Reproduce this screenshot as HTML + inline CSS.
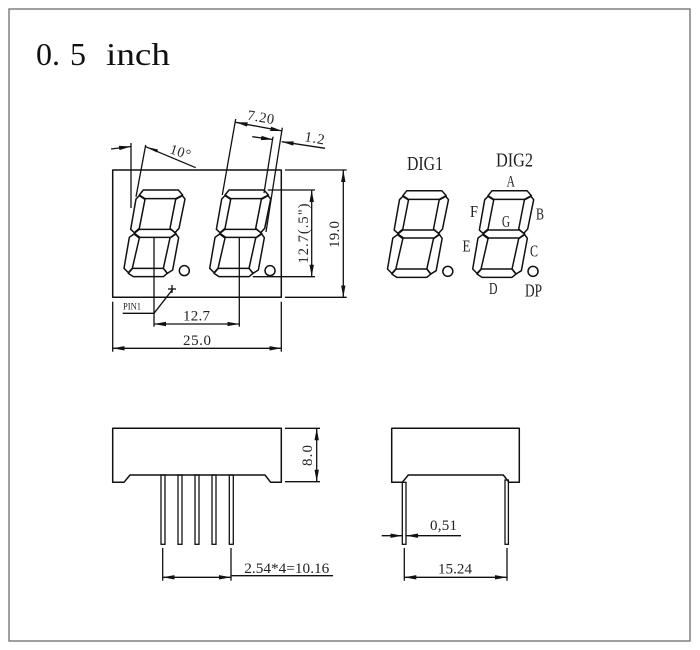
<!DOCTYPE html>
<html>
<head>
<meta charset="utf-8">
<style>
html,body{margin:0;padding:0;background:#fff;width:700px;height:650px;overflow:hidden}
svg{display:block}
text{font-family:"Liberation Serif","Noto Serif CJK SC",serif;fill:#222}
.l{stroke:#111;stroke-width:1.3;fill:none}
.a{stroke:#111;stroke-width:1.3;fill:none;marker-start:url(#ah);marker-end:url(#ah)}
.e{stroke:#111;stroke-width:1.3;fill:none;marker-end:url(#ah)}
.s{stroke:#111;stroke-width:1.5;fill:none;stroke-linejoin:round}
.d polygon,.d circle{stroke:#111;stroke-width:4.5;fill:none;stroke-linejoin:round}
</style>
</head>
<body>
<svg width="700" height="650" viewBox="0 0 700 650" xmlns="http://www.w3.org/2000/svg">
<defs>
<marker id="ah" viewBox="0 0 12 6" refX="12" refY="3" markerWidth="12" markerHeight="6" markerUnits="userSpaceOnUse" orient="auto-start-reverse"><path d="M0 0.8L12 3L0 5.2z" fill="#111"/></marker>
</defs>
<rect width="700" height="650" fill="#fff"/>
<rect x="9" y="9" width="681" height="632" fill="none" stroke="#777" stroke-width="1.4"/>
<text x="36" y="65" font-size="32" style="fill:#111">0.</text>
<text x="70" y="65" font-size="32" style="fill:#111">5</text>
<text x="106" y="65" font-size="32" textLength="64" lengthAdjust="spacingAndGlyphs" style="fill:#111">inch</text>

<!-- front view -->
<rect class="s" x="112.7" y="170" width="168.6" height="127.3"/>

<g class="d" transform="translate(100,100) scale(.3333)">
<polygon points="130,270 235,270 248,285 227,296 135,296 118,285"/>
<polygon points="118,287 135,298 118,385 103,398 92,388 108,297"/>
<polygon points="247,287 255,297 237,385 225,398 210,385 227,298"/>
<polygon points="103,400 118,388 212,388 228,400 212,412 120,412"/>
<polygon points="102,402 118,414 97,505 85,518 72,505 88,412"/>
<polygon points="228,402 236,413 218,510 202,520 190,505 210,414"/>
<polygon points="85,520 98,505 190,505 202,520 190,530 100,530"/>
<circle cx="253" cy="512" r="15"/>
</g>
<g class="d" transform="translate(185.7,100) scale(.3333)">
<polygon points="130,270 235,270 248,285 227,296 135,296 118,285"/>
<polygon points="118,287 135,298 118,385 103,398 92,388 108,297"/>
<polygon points="247,287 255,297 237,385 225,398 210,385 227,298"/>
<polygon points="103,400 118,388 212,388 228,400 212,412 120,412"/>
<polygon points="102,402 118,414 97,505 85,518 72,505 88,412"/>
<polygon points="228,402 236,413 218,510 202,520 190,505 210,414"/>
<polygon points="85,520 98,505 190,505 202,520 190,530 100,530"/>
<circle cx="253" cy="512" r="15"/>
</g>
<g class="d" transform="translate(363.5,100.7) scale(.3333)">
<polygon points="130,270 235,270 248,285 227,296 135,296 118,285"/>
<polygon points="118,287 135,298 118,385 103,398 92,388 108,297"/>
<polygon points="247,287 255,297 237,385 225,398 210,385 227,298"/>
<polygon points="103,400 118,388 212,388 228,400 212,412 120,412"/>
<polygon points="102,402 118,414 97,505 85,518 72,505 88,412"/>
<polygon points="228,402 236,413 218,510 202,520 190,505 210,414"/>
<polygon points="85,520 98,505 190,505 202,520 190,530 100,530"/>
<circle cx="253" cy="512" r="15"/>
</g>
<g class="d" transform="translate(448.7,100.7) scale(.3333)">
<polygon points="130,270 235,270 248,285 227,296 135,296 118,285"/>
<polygon points="118,287 135,298 118,385 103,398 92,388 108,297"/>
<polygon points="247,287 255,297 237,385 225,398 210,385 227,298"/>
<polygon points="103,400 118,388 212,388 228,400 212,412 120,412"/>
<polygon points="102,402 118,414 97,505 85,518 72,505 88,412"/>
<polygon points="228,402 236,413 218,510 202,520 190,505 210,414"/>
<polygon points="85,520 98,505 190,505 202,520 190,530 100,530"/>
<circle cx="253" cy="512" r="15"/>
</g>

<!-- 10 degree -->
<line class="l" x1="131" y1="143" x2="131" y2="208"/>
<line class="e" x1="111" y1="149" x2="131" y2="146.5"/>
<line class="l" x1="145.7" y1="145" x2="136" y2="196.7"/>
<line class="l" x1="145.7" y1="146.7" x2="195.7" y2="167.7"/>
<path d="M145.7 146.7L158 149.5L157 152.5z" fill="#111"/>
<text transform="translate(169,153) rotate(18)" font-size="14" textLength="21">10°</text>

<!-- 7.20 and 1.2 -->
<line class="l" x1="235.7" y1="119" x2="222.3" y2="195"/>
<line class="l" x1="282.3" y1="127.7" x2="266" y2="232"/>
<line class="l" x1="273" y1="136.7" x2="264" y2="193"/>
<line class="a" x1="235.7" y1="122.3" x2="282.3" y2="131"/>
<text transform="translate(246.7,119.5) rotate(10)" font-size="14.5" textLength="27">7.20</text>
<line class="e" x1="252.3" y1="136.7" x2="273" y2="139.5"/>
<line class="e" x1="325" y1="148.3" x2="281.7" y2="141.7"/>
<text transform="translate(304,141) rotate(10)" font-size="14.5" textLength="20">1.2</text>

<!-- right dims -->
<line class="l" x1="285" y1="170" x2="346.7" y2="170"/>
<line class="l" x1="285" y1="297.3" x2="346.7" y2="297.3"/>
<line class="a" x1="343.3" y1="170" x2="343.3" y2="297.3"/>
<text transform="translate(339,248) rotate(-90)" font-size="15" textLength="27">19.0</text>
<line class="l" x1="267.7" y1="190" x2="315" y2="190"/>
<line class="l" x1="252.7" y1="276.7" x2="315" y2="276.7"/>
<line class="a" x1="311.7" y1="190" x2="311.7" y2="276.7"/>
<text transform="translate(308,263.5) rotate(-90)" font-size="14.5" textLength="60">12.7(.5")</text>

<!-- pin1 and lower dims -->
<text x="123" y="309.5" font-size="9.5" textLength="18" lengthAdjust="spacingAndGlyphs">PIN1</text>
<line class="l" x1="122.7" y1="313.3" x2="154" y2="313.3"/>
<line class="l" x1="154" y1="313.3" x2="172.7" y2="289.3"/>
<line class="l" x1="168" y1="289" x2="176" y2="289"/>
<line class="l" x1="172" y1="285" x2="172" y2="293"/>
<line class="l" x1="154" y1="237" x2="154" y2="326.7"/>
<line class="l" x1="239.3" y1="237" x2="239.3" y2="326.7"/>
<line class="a" x1="154" y1="324" x2="239.3" y2="324"/>
<text x="183" y="320.5" font-size="15" textLength="27">12.7</text>
<line class="l" x1="112.7" y1="301.7" x2="112.7" y2="351.7"/>
<line class="l" x1="281.3" y1="301.7" x2="281.3" y2="351.7"/>
<line class="a" x1="112.7" y1="348.3" x2="281.3" y2="348.3"/>
<text x="183" y="345" font-size="15" textLength="28">25.0</text>

<!-- digit labels -->
<text x="407" y="170" font-size="20" textLength="36" lengthAdjust="spacingAndGlyphs">DIG1</text>
<text x="496" y="166.7" font-size="20" textLength="37" lengthAdjust="spacingAndGlyphs">DIG2</text>
<text x="506.5" y="186.5" font-size="16" textLength="8.5" lengthAdjust="spacingAndGlyphs">A</text>
<text x="470" y="217" font-size="17" textLength="8" lengthAdjust="spacingAndGlyphs">F</text>
<text x="536" y="219.5" font-size="17" textLength="8" lengthAdjust="spacingAndGlyphs">B</text>
<text x="502" y="227" font-size="17" textLength="8" lengthAdjust="spacingAndGlyphs">G</text>
<text x="462.5" y="251.5" font-size="17" textLength="8" lengthAdjust="spacingAndGlyphs">E</text>
<text x="530" y="256.5" font-size="17" textLength="8" lengthAdjust="spacingAndGlyphs">C</text>
<text x="489" y="294" font-size="17" textLength="8.5" lengthAdjust="spacingAndGlyphs">D</text>
<text x="525" y="296.5" font-size="18" textLength="17" lengthAdjust="spacingAndGlyphs">DP</text>

<!-- bottom-left view -->
<path class="s" d="M112.7 482.3V428.3H281.3V482.3H270.7L265 475H130L124 482.3Z"/>
<rect class="l" x="161" y="475" width="4" height="69.3"/>
<rect class="l" x="178" y="475" width="4" height="69.3"/>
<rect class="l" x="195" y="475" width="4" height="69.3"/>
<rect class="l" x="212" y="475" width="4" height="69.3"/>
<rect class="l" x="229.3" y="475" width="4" height="69.3"/>
<line class="l" x1="285" y1="428.3" x2="320" y2="428.3"/>
<line class="l" x1="285" y1="481.7" x2="320" y2="481.7"/>
<line class="a" x1="316.7" y1="428.3" x2="316.7" y2="481.7"/>
<text transform="translate(312,466) rotate(-90)" font-size="15" textLength="21">8.0</text>
<line class="l" x1="162.7" y1="548" x2="162.7" y2="580.7"/>
<line class="l" x1="231" y1="548" x2="231" y2="580.7"/>
<line class="a" x1="162.7" y1="577.3" x2="231" y2="577.3"/>
<line class="l" x1="231" y1="575.7" x2="333" y2="575.7"/>
<text x="244.3" y="573" font-size="15" textLength="85" lengthAdjust="spacingAndGlyphs">2.54*4=10.16</text>

<!-- bottom-right view -->
<path class="s" d="M391.7 482.3V428.3H519.3V482.3H509L503.3 475H408.3L402.3 482.3Z"/>
<rect class="l" x="402.3" y="482.3" width="3.7" height="62"/>
<rect class="l" x="505" y="480" width="3.4" height="64.3"/>
<line class="e" x1="381.7" y1="535.7" x2="402.3" y2="535.7"/>
<line class="e" x1="461" y1="535.7" x2="406" y2="535.7"/>
<text x="430" y="530" font-size="15" textLength="27">0,51</text>
<line class="l" x1="404.3" y1="548" x2="404.3" y2="580.7"/>
<line class="l" x1="507" y1="548" x2="507" y2="580.7"/>
<line class="a" x1="404.3" y1="577.3" x2="507" y2="577.3"/>
<text x="438" y="573.3" font-size="15" textLength="34" lengthAdjust="spacingAndGlyphs">15.24</text>
</svg>
</body>
</html>
